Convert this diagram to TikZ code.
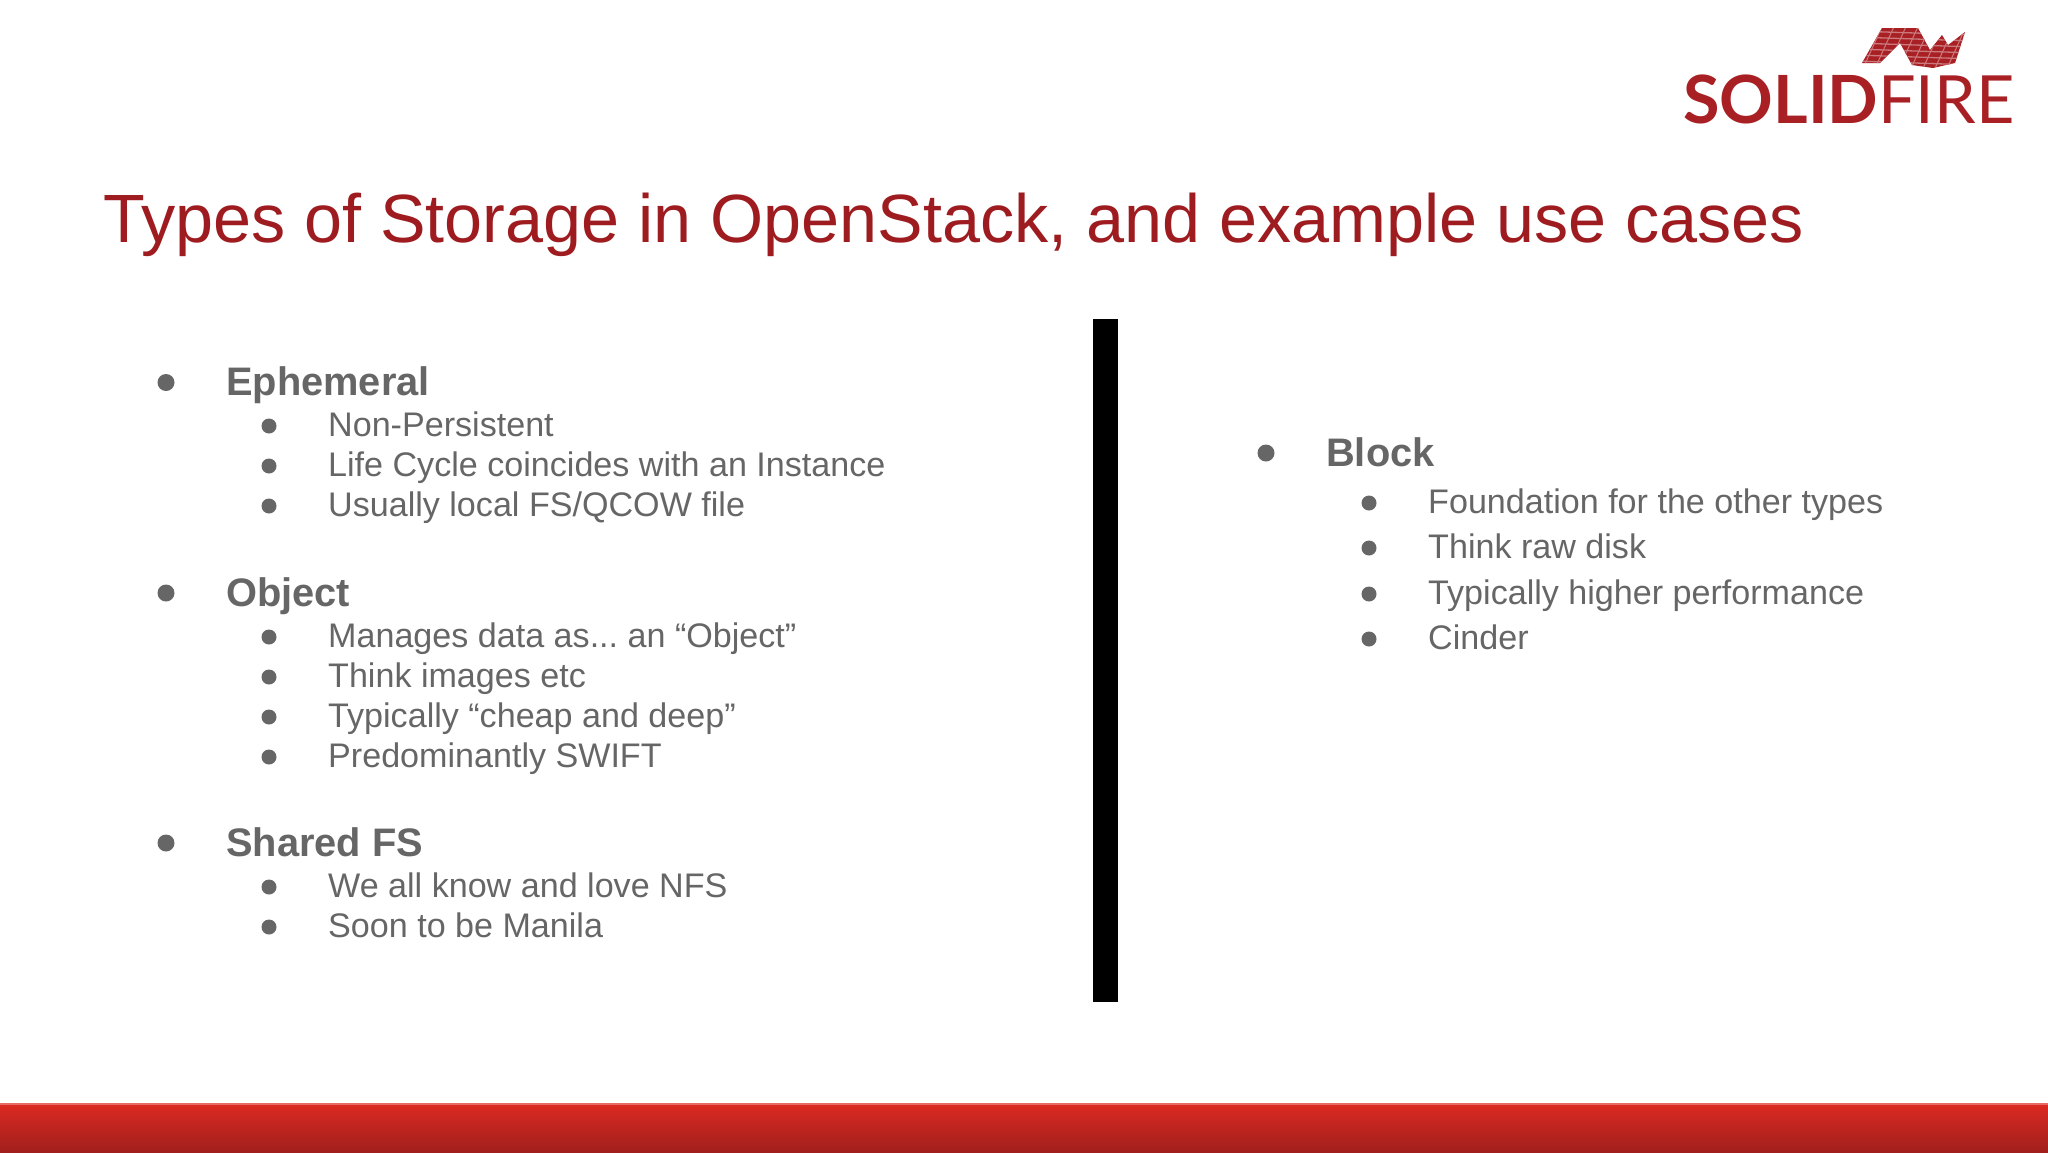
\documentclass[tikz,border=0pt]{standalone}
\usepackage{fontspec}
\setmainfont{Liberation Sans}
\newfontfamily\logofont{Lato}
\frenchspacing
\definecolor{titlered}{HTML}{9E1C20}
\definecolor{bodygray}{HTML}{666666}
\definecolor{barred}{HTML}{DC2A22}
\definecolor{bardark}{HTML}{A11F1C}
\definecolor{logored}{HTML}{A82024}
\tikzset{
  headtext/.style={anchor=base west,inner sep=0pt,text=bodygray,font=\fontsize{39.8}{40}\selectfont\bfseries},
  subtext/.style={anchor=base west,inner sep=0pt,text=bodygray,font=\fontsize{34.1}{34}\selectfont},
  dotmark/.style={circle,fill=bodygray,inner sep=0pt,minimum size=#1}
}
\newcommand{\headline}[4]{% x, y, name, text
  \node[dotmark=17pt] (#3dot) at (#1,#2-13) {};
  \node[headtext] (#3) at (#1+60,#2) {#4};
}
\newcommand{\subline}[4]{%
  \node[dotmark=15pt] (#3dot) at (#1,#2-10) {};
  \node[subtext] (#3) at (#1+59,#2) {#4};
}
\begin{document}
\begin{tikzpicture}[x=1pt,y=-1pt,line join=round]
\useasboundingbox (0,0) rectangle (2048,1152);
\fill[white] (0,0) rectangle (2048,1152);
% bottom band
\fill[top color=barred,bottom color=bardark] (0,1104) rectangle (2048,1152);
\fill[barred!70!white] (0,1103) rectangle (2048,1105);
% title
\node[anchor=base west,inner sep=0pt,text=titlered,font=\fontsize{68.3}{68}\selectfont] (title) at (103,242) {Types of Storage in OpenStack, and example use cases};
% divider
\fill[black] (1093,319) rectangle (1118,1002);
% left column
\headline{166}{395.5}{eph}{Ephemeral}
\subline{269}{436}{ephA}{Non-Persistent}
\subline{269}{476}{ephB}{Life Cycle coincides with an Instance}
\subline{269}{516}{ephC}{Usually local FS/QCOW file}
\headline{166}{606}{obj}{Object}
\subline{269}{647}{objA}{Manages data as... an “Object”}
\subline{269}{687}{objB}{Think images etc}
\subline{269}{727}{objC}{Typically “cheap and deep”}
\subline{269}{767}{objD}{Predominantly SWIFT}
\headline{166}{856}{fs}{Shared FS}
\subline{269}{897}{fsA}{We all know and love NFS}
\subline{269}{937}{fsB}{Soon to be Manila}
% right column
\headline{1266}{466}{blk}{Block}
\subline{1369}{513}{blkA}{Foundation for the other types}
\subline{1369}{558}{blkB}{Think raw disk}
\subline{1369}{604}{blkC}{Typically higher performance}
\subline{1369}{649}{blkD}{Cinder}
% logo
\node[anchor=base west,inner sep=0pt,text=logored,font=\fontsize{66.5}{66}\selectfont\logofont] (logo) at (1683,123) {\textbf{SOLID}FIRE};
\begin{scope}
\clip (1862,63) -- (1882,28) -- (1918,28) -- (1930,50) -- (1942,35) -- (1948,45) -- (1965,32) -- (1955,63) -- (1933,68) -- (1912,65) -- (1900,43) -- (1880,63) -- cycle;
\fill[logored] (1855,20) rectangle (1975,75);
\foreach \ypos in {33,39,...,69} \draw[logored!60!white,line width=1.3pt] (1855,\ypos-2) -- (1975,\ypos+2);
\foreach \xpos in {1860,1872,...,1980} \draw[logored!60!white,line width=1pt] (\xpos,75) -- (\xpos+25,20);
\end{scope}
\end{tikzpicture}
\end{document}
